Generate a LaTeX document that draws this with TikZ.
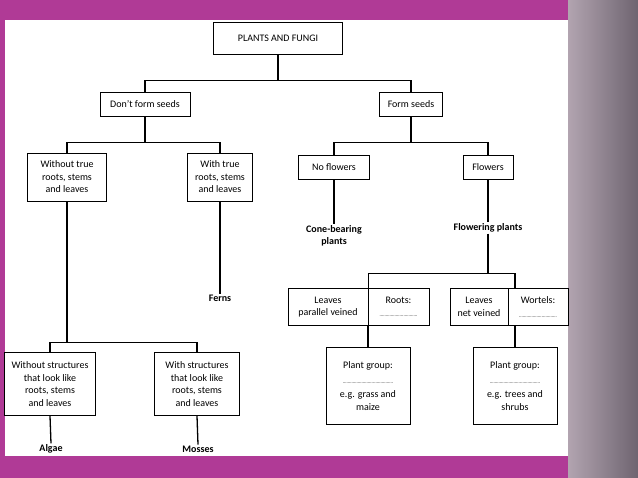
\documentclass[tikz,border=0pt]{standalone}
\usepackage{fontspec}
\setmainfont{Carlito}
\usetikzlibrary{positioning}
\definecolor{slidepink}{RGB}{176,58,150}
\definecolor{sidegrayA}{RGB}{178,164,176}
\definecolor{sidegrayB}{RGB}{110,100,112}
\tikzset{
  box/.style={draw=black, thick, fill=white, rectangle, align=center,
    inner sep=2pt, font=\fontsize{10}{12.5}\selectfont},
  leaf/.style={font=\bfseries\fontsize{10}{12.5}\selectfont, align=center, inner sep=1pt},
  link/.style={draw=black, line width=1.3pt}
}
\begin{document}
\begin{tikzpicture}[x=1pt,y=-1pt]
\useasboundingbox (0,0) rectangle (638,478);
\fill[slidepink] (0,0) rectangle (568,478);
\fill[white] (5,20) rectangle (568,456);
\shade[left color=sidegrayA, right color=sidegrayB] (568,0) rectangle (638,478);

% Top levels
\node[box, minimum width=129pt, minimum height=32pt] (root) at (278,38) {PLANTS AND FUNGI};
\node[box, minimum width=90pt, minimum height=24pt] (noseed) at (145,104) {Don't form seeds};
\node[box, minimum width=63pt, minimum height=24pt] (seed) at (411,104) {Form seeds};

\node[box, minimum width=79pt, minimum height=48pt] (notrue) at (67,177) {Without true\\roots, stems\\and leaves};
\node[box, minimum width=65pt, minimum height=48pt] (true) at (220,177) {With true\\roots, stems\\and leaves};
\node[box, minimum width=71pt, minimum height=24pt] (noflow) at (334,167) {No flowers};
\node[box, minimum width=50pt, minimum height=24pt] (flow) at (488,167) {Flowers};

\node[leaf] (cone) at (334,236) {Cone-bearing\\plants};
\node[leaf] (flplants) at (488,228) {Flowering plants};
\node[leaf] (ferns) at (220,298) {Ferns};

% Bottom left
\node[box, minimum width=91pt, minimum height=63pt] (nostruct) at (50,384) {Without structures\\that look like\\roots, stems\\and leaves};
\node[box, minimum width=85pt, minimum height=63pt] (struct) at (197,384) {With structures\\that look like\\roots, stems\\and leaves};
\node[leaf] (algae) at (51,449) {Algae};
\node[leaf] (mosses) at (198,449) {Mosses};

% Bottom right
\node[box, minimum width=80pt, minimum height=37pt] (par) at (328,307) {Leaves\\parallel veined};
\node[box, minimum width=61pt, minimum height=37pt] (roots) at (398.5,307) {Roots:\\[1pt]\tiny ..............................};
\node[box, minimum width=58pt, minimum height=37pt] (net) at (479,307) {Leaves\\net veined};
\node[box, minimum width=60pt, minimum height=37pt] (wort) at (538,307) {Wortels:\\[1pt]\tiny ..............................};
\node[box, minimum width=84pt, minimum height=77pt] (grp1) at (368,386) {Plant group:\\[2pt]{\tiny ........................................}\\[2pt]e.g. grass and\\maize};
\node[box, minimum width=84pt, minimum height=77pt] (grp2) at (515,386) {Plant group:\\[2pt]{\tiny ........................................}\\[2pt]e.g. trees and\\shrubs};

% Connectors
\draw[link] (root.south) -- ++(0,26) -| (noseed.north);
\draw[link] (root.south) -- ++(0,26) -| (seed.north);
\draw[link] (noseed.south) -- ++(0,26) -| (notrue.north);
\draw[link] (noseed.south) -- ++(0,26) -| (true.north);
\draw[link] (seed.south) -- ++(0,26) -| (noflow.north);
\draw[link] (seed.south) -- ++(0,26) -| (flow.north);
\draw[link] (noflow.south) -- (cone.north);
\draw[link] (flow.south) -- (flplants.north);
\draw[link] (true.south) -- (ferns.north);
\draw[link] (notrue.south) -- ++(0,141) -| (nostruct.north);
\draw[link] (notrue.south) -- ++(0,141) -| (struct.north);
\draw[link] (nostruct.south) -- (algae.north);
\draw[link] (struct.south) -- (mosses.north);
\draw[link] (flplants.south) -- ++(0,40) coordinate (fb);
\draw[link] (par.north east) -- (par.north east |- fb) -- (grp2.north |- fb) -- (grp2.north |- wort.north);
\draw[link] (grp1.north |- par.south) -- (grp1.north);
\draw[link] (grp2.north |- wort.south) -- (grp2.north);
\end{tikzpicture}
\end{document}
